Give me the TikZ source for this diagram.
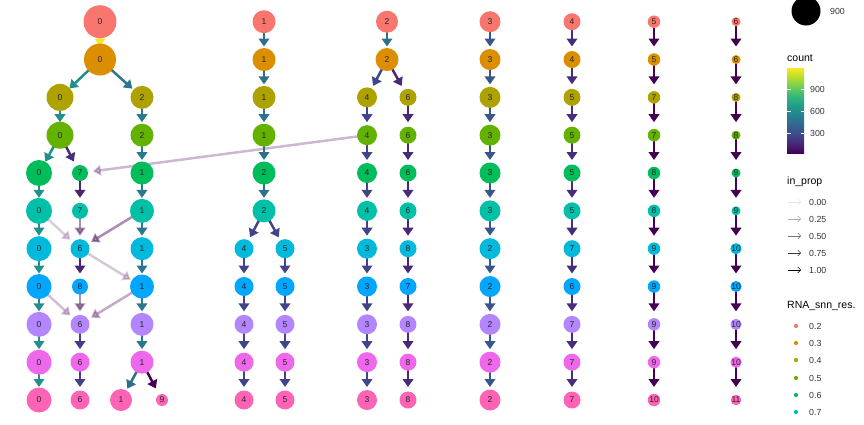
\documentclass[tikz,border=0pt]{standalone}
\usepackage{fontspec}
\setmainfont{Liberation Sans}
\usetikzlibrary{arrows.meta,backgrounds}
% row colours (hue palette, 11 levels)
\definecolor{rc1}{HTML}{F8766D}
\definecolor{rc2}{HTML}{DB8E00}
\definecolor{rc3}{HTML}{AEA200}
\definecolor{rc4}{HTML}{64B200}
\definecolor{rc5}{HTML}{00BD5C}
\definecolor{rc6}{HTML}{00C1A7}
\definecolor{rc7}{HTML}{00BADE}
\definecolor{rc8}{HTML}{00A6FF}
\definecolor{rc9}{HTML}{B385FF}
\definecolor{rc10}{HTML}{EF67EB}
\definecolor{rc11}{HTML}{FF63B6}
% viridis
\definecolor{v0}{HTML}{440154}
\definecolor{v1}{HTML}{482878}
\definecolor{v2}{HTML}{3E4A89}
\definecolor{v3}{HTML}{31688E}
\definecolor{v4}{HTML}{26828E}
\definecolor{v5}{HTML}{1F9E89}
\definecolor{v6}{HTML}{35B779}
\definecolor{v7}{HTML}{6DCD59}
\definecolor{v8}{HTML}{B4DE2C}
\definecolor{v9}{HTML}{FDE725}
% edge colours
\definecolor{eY}{HTML}{FDE725}
\definecolor{eTeal}{HTML}{21908C}
\definecolor{eT2}{HTML}{2A788E}
\definecolor{eB}{HTML}{2D708E}
\definecolor{eD}{HTML}{39568C}
\definecolor{eL}{HTML}{414487}
\definecolor{eR}{HTML}{482878}
\definecolor{eE}{HTML}{472D7B}
\definecolor{eF}{HTML}{440154}
\definecolor{eP}{HTML}{482475}
\definecolor{eQ}{HTML}{433E85}
\pgfdeclareverticalshading{viridisbar}{100bp}{color(0bp)=(v0); color(25bp)=(v0); color(30.56bp)=(v1); color(36.11bp)=(v2); color(41.67bp)=(v3); color(47.22bp)=(v4); color(52.78bp)=(v5); color(58.33bp)=(v6); color(63.89bp)=(v7); color(69.44bp)=(v8); color(75bp)=(v9); color(100bp)=(v9)}
\newcommand\NdX[5]{\node[nd,minimum size=#4pt,fill=rc#3] (#1) at (#2,{21.7+(#3-1)*37.83}) {#5};}
\newcommand\EdG[3]{\draw[lnk,#3] (#1.center) -- (#2.center);}
\tikzset{
  nd/.style={circle,inner sep=0pt,outer sep=0pt,text=black!85,font=\fontsize{8.5}{8.5}\selectfont},
  lnk/.style={line width=2.5pt,-{Triangle[length=8pt,width=10.5pt]},shorten >=13pt},
  lgtitle/.style={anchor=west,inner sep=0pt,font=\fontsize{10.5}{11}\selectfont,text=black},
  lglab/.style={anchor=west,inner sep=0pt,font=\fontsize{8.8}{9}\selectfont,text=black!80},
  lgarr/.style={line width=0.5pt,-{Straight Barb[length=3pt,width=6pt]}}
}
\begin{document}
\begin{tikzpicture}[x=1pt,y=-1pt]
\useasboundingbox (0,0) rectangle (864,424);
% ---------- column A ----------
\NdX{a1}{100}{1}{33}{0}
\NdX{a2}{100}{2}{32}{0}
\NdX{a3l}{60}{3}{27}{0} \NdX{a3r}{142}{3}{23}{2}
\NdX{a4l}{60}{4}{27}{0} \NdX{a4r}{142}{4}{23}{2}
\NdX{a5l}{39}{5}{26}{0} \NdX{a5m}{80}{5}{16}{7} \NdX{a5r}{142}{5}{23}{1}
\NdX{a6l}{39}{6}{26}{0} \NdX{a6m}{80}{6}{16}{7} \NdX{a6r}{142}{6}{24}{1}
\NdX{a7l}{39}{7}{25}{0} \NdX{a7m}{80}{7}{19}{6} \NdX{a7r}{142}{7}{23}{1}
\NdX{a8l}{39}{8}{25}{0} \NdX{a8m}{80}{8}{16}{8} \NdX{a8r}{142}{8}{24}{1}
\NdX{a9l}{39}{9}{25}{0} \NdX{a9m}{80}{9}{19}{6} \NdX{a9r}{142}{9}{23}{1}
\NdX{a10l}{39}{10}{25}{0} \NdX{a10m}{80}{10}{19}{6} \NdX{a10r}{142}{10}{23}{1}
\NdX{a11l}{39}{11}{25}{0} \NdX{a11m}{80}{11}{19}{6} \NdX{a11r}{121}{11}{22}{1} \NdX{a11x}{162}{11}{12}{9}
% ---------- column B ----------
\foreach \r/\l in {1/1,2/1,3/1,4/1,5/2,6/2}{\NdX{b\r}{264}{\r}{23}{\l}}
\foreach \r in {7,...,11}{\NdX{bl\r}{244}{\r}{19}{4} \NdX{br\r}{285}{\r}{19}{5}}
% ---------- column C ----------
\NdX{c1}{387}{1}{22}{2}
\NdX{c2}{387}{2}{23}{2}
\foreach \r/\l/\m in {3/4/6,4/4/6,5/4/6,6/4/6,7/3/8,8/3/7,9/3/8,10/3/8,11/3/8}{\NdX{cl\r}{367}{\r}{20}{\l} \NdX{cr\r}{408}{\r}{17}{\m}}
% ---------- columns D-G ----------
\foreach \r/\l in {1/3,2/3,3/3,4/3,5/3,6/3,7/2,8/2,9/2,10/2,11/2}{\NdX{d\r}{490}{\r}{21}{\l}}
\foreach \r/\l in {1/4,2/4,3/5,4/5,5/5,6/5,7/7,8/6,9/7,10/7,11/7}{\NdX{e\r}{572}{\r}{17}{\l}}
\foreach \r/\l in {1/5,2/5,3/7,4/7,5/8,6/8,7/9,8/9,9/9,10/9,11/10}{\NdX{f\r}{654}{\r}{12.5}{\l}}
\foreach \r/\l in {1/6,2/6,3/8,4/8,5/9,6/9,7/10,8/10,9/10,10/10,11/11}{\NdX{g\r}{736}{\r}{9}{\l}}
% ---------- edges ----------
\begin{scope}[on background layer]
% faint edges
\EdG{cl4}{a5m}{eF,opacity=0.28}
\EdG{a6l}{a7m}{eF,opacity=0.2}
\EdG{a6m}{a7m}{eF,opacity=0.45}
\EdG{a6r}{a7m}{eF,opacity=0.45}
\EdG{a7m}{a8r}{eF,opacity=0.22}
\EdG{a8l}{a9m}{eF,opacity=0.25}
\EdG{a8m}{a9m}{eF,opacity=0.45}
\EdG{a8r}{a9m}{eF,opacity=0.33}
% column A
\EdG{a1}{a2}{eY}
\EdG{a2}{a3l}{eTeal} \EdG{a2}{a3r}{eT2}
\EdG{a3l}{a4l}{eTeal} \EdG{a3r}{a4r}{eT2}
\EdG{a4l}{a5l}{eTeal} \EdG{a4l}{a5m}{eE} \EdG{a4r}{a5r}{eT2}
\EdG{a5l}{a6l}{eTeal} \EdG{a5m}{a6m}{eP} \EdG{a5r}{a6r}{eT2}
\EdG{a6l}{a7l}{eTeal} \EdG{a6r}{a7r}{eT2}
\EdG{a7l}{a8l}{eTeal} \EdG{a7m}{a8m}{eP} \EdG{a7r}{a8r}{eT2}
\EdG{a8l}{a9l}{eTeal} \EdG{a8r}{a9r}{eT2}
\EdG{a9l}{a10l}{eTeal} \EdG{a9m}{a10m}{eQ} \EdG{a9r}{a10r}{eT2}
\EdG{a10l}{a11l}{eTeal} \EdG{a10m}{a11m}{eQ} \EdG{a10r}{a11r}{eB} \EdG{a10r}{a11x}{eF}
% column B
\foreach \r in {1,...,5}{\pgfmathtruncatemacro\nx{\r+1}\EdG{b\r}{b\nx}{eB}}
\EdG{b6}{bl7}{eL} \EdG{b6}{br7}{eL}
\foreach \r in {7,...,10}{\pgfmathtruncatemacro\nx{\r+1}\EdG{bl\r}{bl\nx}{eL}\EdG{br\r}{br\nx}{eL}}
% column C
\EdG{c1}{c2}{eB}
\EdG{c2}{cl3}{eL} \EdG{c2}{cr3}{eR}
\foreach \r in {3,...,10}{\pgfmathtruncatemacro\nx{\r+1}\EdG{cl\r}{cl\nx}{eL}\EdG{cr\r}{cr\nx}{eR}}
% columns D-G
\foreach \r in {1,...,10}{\pgfmathtruncatemacro\nx{\r+1}
  \EdG{d\r}{d\nx}{eD}\EdG{e\r}{e\nx}{eE}\EdG{f\r}{f\nx}{eF}\EdG{g\r}{g\nx}{eF}}
\end{scope}
% ---------- legends ----------
\node[circle,fill=black,minimum size=29pt,inner sep=0pt] (lgsz) at (806,11) {};
\node[lglab] (lgsz900) at (830,11) {900};
\node[lgtitle] (lgcount) at (787,58) {count};
\shade[shading=viridisbar] (787,68) rectangle (804,153);
\foreach \yv in {89,111,133}{
  \draw[white,line width=0.6pt] (787,\yv) -- (790.5,\yv);
  \draw[white,line width=0.6pt] (800.5,\yv) -- (804,\yv);}
\node[lglab] (lgc900) at (810,89) {900};
\node[lglab] (lgc600) at (810,111) {600};
\node[lglab] (lgc300) at (810,133) {300};
\node[lgtitle] (lgprop) at (787,182) {in\_prop};
\foreach \yv/\op/\t in {202/0.1/0.00,219/0.325/0.25,236/0.55/0.50,253/0.775/0.75,270/1/1.00}{
  \draw[lgarr,black,opacity=\op] (788,\yv) -- (801,\yv);
  \node[lglab] at (809,\yv) {\t};}
\node[lgtitle] (lgres) at (787,306) {RNA\_snn\_res.};
\foreach \yv/\c/\t in {326/rc1/0.2,343/rc2/0.3,360/rc3/0.4,378/rc4/0.5,395/rc5/0.6,412/rc6/0.7}{
  \fill[\c] (796,\yv) circle (2.1pt);
  \node[lglab] at (809,\yv) {\t};}
\end{tikzpicture}
\end{document}
